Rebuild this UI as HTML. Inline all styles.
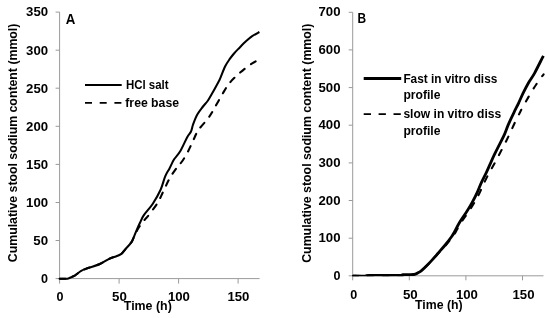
<!DOCTYPE html>
<html><head><meta charset="utf-8"><title>Cumulative stool sodium content</title>
<style>
html,body{margin:0;padding:0;background:#fff;}
svg{display:block;}
text{font-family:"Liberation Sans",sans-serif;font-weight:bold;fill:#000;}
.t{font-size:12px;}
.p{font-size:14.5px;}
.ax{stroke:#9a9a9a;stroke-width:1;fill:none;}
.ln{stroke:#000;fill:none;stroke-linejoin:round;}
</style></head><body>
<svg width="550" height="318" viewBox="0 0 550 318">
<rect width="550" height="318" fill="#fff"/>
<path class="ax" d="M59.6 12.1V283.6M55.6 278.6H259.6M55.6 240.5H59.6M55.6 202.5H59.6M55.6 164.4H59.6M55.6 126.3H59.6M55.6 88.2H59.6M55.6 50.2H59.6M55.6 12.1H59.6M119.1 278.6V283.6M178.6 278.6V283.6M238.1 278.6V283.6"/>
<text class="t" x="48.1" y="282.9" text-anchor="end" textLength="7.0" lengthAdjust="spacingAndGlyphs">0</text>
<text class="t" x="48.1" y="244.8" text-anchor="end" textLength="14.8" lengthAdjust="spacingAndGlyphs">50</text>
<text class="t" x="48.1" y="206.8" text-anchor="end" textLength="22.0" lengthAdjust="spacingAndGlyphs">100</text>
<text class="t" x="48.1" y="168.7" text-anchor="end" textLength="22.0" lengthAdjust="spacingAndGlyphs">150</text>
<text class="t" x="48.1" y="130.6" text-anchor="end" textLength="22.0" lengthAdjust="spacingAndGlyphs">200</text>
<text class="t" x="48.1" y="92.5" text-anchor="end" textLength="22.0" lengthAdjust="spacingAndGlyphs">250</text>
<text class="t" x="48.1" y="54.5" text-anchor="end" textLength="22.0" lengthAdjust="spacingAndGlyphs">300</text>
<text class="t" x="48.1" y="16.4" text-anchor="end" textLength="22.0" lengthAdjust="spacingAndGlyphs">350</text>
<text class="t" x="59.9" y="300.8" text-anchor="middle" textLength="7.0" lengthAdjust="spacingAndGlyphs">0</text>
<text class="t" x="119.4" y="300.8" text-anchor="middle" textLength="14.8" lengthAdjust="spacingAndGlyphs">50</text>
<text class="t" x="178.9" y="300.8" text-anchor="middle" textLength="22.0" lengthAdjust="spacingAndGlyphs">100</text>
<text class="t" x="238.4" y="300.8" text-anchor="middle" textLength="22.0" lengthAdjust="spacingAndGlyphs">150</text>
<text class="t" x="123.8" y="310" text-anchor="start" textLength="48.0" lengthAdjust="spacingAndGlyphs">Time (h)</text>
<text class="t" transform="translate(16.6 262.2) rotate(-90)" textLength="238.6" lengthAdjust="spacingAndGlyphs">Cumulative stool sodium content (mmol)</text>
<text class="p" x="65.8" y="24" text-anchor="start" textLength="9.6" lengthAdjust="spacingAndGlyphs">A</text>
<path class="ln" stroke-width="2.05" d="M59.6 278.8C60.3 278.8 62.7 278.8 64.0 278.8C65.3 278.7 66.3 278.8 67.2 278.7C68.1 278.6 68.2 278.6 69.5 278.0C70.8 277.4 73.1 276.5 75.1 275.3C77.0 274.1 79.2 272.1 81.2 270.9C83.2 269.7 84.2 269.4 87.2 268.3C90.2 267.2 95.6 265.9 99.3 264.3C103.0 262.7 106.6 260.1 109.3 258.8C112.0 257.5 113.4 257.4 115.4 256.6C117.4 255.8 119.7 255.0 121.4 253.8C123.1 252.6 123.7 251.1 125.4 249.2C127.1 247.2 130.0 244.4 131.5 242.1C133.0 239.8 133.6 237.4 134.6 235.1C135.6 232.8 136.6 230.3 137.5 228.2C138.4 226.1 139.1 224.6 140.1 222.5C141.1 220.4 141.6 218.5 143.7 215.4C145.8 212.3 150.0 208.0 152.8 203.7C155.6 199.4 158.5 194.3 160.6 189.7C162.7 185.1 163.8 179.6 165.3 176.1C166.8 172.6 168.0 171.2 169.5 168.4C171.0 165.6 172.3 162.2 174.1 159.3C175.9 156.5 178.0 155.0 180.2 151.3C182.4 147.6 185.4 140.5 187.2 137.2C189.0 133.9 190.0 133.7 191.0 131.5C192.0 129.3 192.1 127.0 193.2 124.1C194.3 121.2 196.0 116.9 197.6 114.1C199.2 111.2 200.9 109.2 202.6 107.0C204.3 104.8 206.3 102.8 207.6 101.0C208.9 99.2 208.7 99.4 210.5 96.3C212.3 93.2 216.7 85.2 218.3 82.2C219.9 79.2 219.0 81.1 220.2 78.4C221.3 75.8 223.6 69.5 225.2 66.3C226.8 63.1 228.2 61.2 229.6 59.2C231.0 57.2 232.2 55.7 233.6 54.0C235.0 52.3 236.0 51.2 238.1 49.1C240.2 47.0 243.8 43.2 246.2 41.1C248.5 39.0 250.0 37.7 252.2 36.2C254.4 34.7 258.2 32.7 259.4 32.0"/>
<path class="ln" stroke-width="2.1" stroke-linecap="round" stroke-dasharray="5.8 7.8" d="M59.6 278.8C60.3 278.8 62.7 278.8 64.0 278.8C65.3 278.7 66.3 278.8 67.2 278.7C68.1 278.6 68.2 278.6 69.5 278.0C70.8 277.4 73.1 276.5 75.1 275.3C77.0 274.1 79.2 272.1 81.2 270.9C83.2 269.7 84.2 269.4 87.2 268.3C90.2 267.2 95.6 265.9 99.3 264.3C103.0 262.7 106.6 260.1 109.3 258.8C112.0 257.5 113.4 257.4 115.4 256.6C117.4 255.8 119.7 255.0 121.4 253.8C123.1 252.6 123.7 251.1 125.4 249.2C127.1 247.2 130.0 244.4 131.5 242.1C133.0 239.8 133.5 237.5 134.6 235.3C135.7 233.1 136.9 230.7 137.9 229.0C138.9 227.3 139.5 226.5 140.6 225.0C141.7 223.5 143.1 221.8 144.5 220.0C145.9 218.2 147.1 217.3 149.2 214.5C151.3 211.7 155.0 207.2 157.3 203.4C159.7 199.6 161.2 195.6 163.3 191.4C165.4 187.2 167.4 182.3 169.7 178.3C171.9 174.3 174.8 170.4 176.8 167.6C178.9 164.8 180.1 164.2 182.0 161.5C183.9 158.8 186.1 155.2 188.0 151.5C189.9 147.8 192.0 143.0 193.7 139.4C195.4 135.8 195.9 133.8 198.3 130.2C200.7 126.6 205.6 121.7 208.3 118.1C211.0 114.5 212.0 112.4 214.3 108.4C216.6 104.4 219.8 98.5 222.3 94.3C224.8 90.1 226.6 86.7 229.4 83.2C232.2 79.7 236.1 76.2 239.4 73.2C242.8 70.2 246.8 67.1 249.5 65.1C252.2 63.1 254.6 62.0 255.6 61.4"/>
<path class="ln" stroke-width="2.0" d="M85 85.1H121.7"/>
<path class="ln" stroke-width="1.8" stroke-dasharray="7 7.7" d="M85 102.8H121.7"/>
<text class="t" x="125.9" y="88.7" text-anchor="start" textLength="42.7" lengthAdjust="spacingAndGlyphs">HCl salt</text>
<text class="t" x="125.3" y="106.9" text-anchor="start" textLength="53.7" lengthAdjust="spacingAndGlyphs">free base</text>
<path class="ax" d="M352.7 12.3V280.3M348.7 275.8H543.5M348.7 238.2H352.7M348.7 200.5H352.7M348.7 162.9H352.7M348.7 125.2H352.7M348.7 87.6H352.7M348.7 49.9H352.7M348.7 12.3H352.7M409.3 275.8V280.3M465.9 275.8V280.3M522.5 275.8V280.3"/>
<text class="t" x="340.5" y="279.9" text-anchor="end" textLength="7.0" lengthAdjust="spacingAndGlyphs">0</text>
<text class="t" x="340.5" y="242.3" text-anchor="end" textLength="22.0" lengthAdjust="spacingAndGlyphs">100</text>
<text class="t" x="340.5" y="204.6" text-anchor="end" textLength="22.0" lengthAdjust="spacingAndGlyphs">200</text>
<text class="t" x="340.5" y="167.0" text-anchor="end" textLength="22.0" lengthAdjust="spacingAndGlyphs">300</text>
<text class="t" x="340.5" y="129.3" text-anchor="end" textLength="22.0" lengthAdjust="spacingAndGlyphs">400</text>
<text class="t" x="340.5" y="91.7" text-anchor="end" textLength="22.0" lengthAdjust="spacingAndGlyphs">500</text>
<text class="t" x="340.5" y="54.0" text-anchor="end" textLength="22.0" lengthAdjust="spacingAndGlyphs">600</text>
<text class="t" x="340.5" y="16.4" text-anchor="end" textLength="22.0" lengthAdjust="spacingAndGlyphs">700</text>
<text class="t" x="353.7" y="298.7" text-anchor="middle" textLength="7.0" lengthAdjust="spacingAndGlyphs">0</text>
<text class="t" x="410.3" y="298.7" text-anchor="middle" textLength="14.8" lengthAdjust="spacingAndGlyphs">50</text>
<text class="t" x="466.9" y="298.7" text-anchor="middle" textLength="22.0" lengthAdjust="spacingAndGlyphs">100</text>
<text class="t" x="523.5" y="298.7" text-anchor="middle" textLength="22.0" lengthAdjust="spacingAndGlyphs">150</text>
<text class="t" x="415.0" y="309.4" text-anchor="start" textLength="47.6" lengthAdjust="spacingAndGlyphs">Time (h)</text>
<text class="t" transform="translate(310.9 262.8) rotate(-90)" textLength="239.2" lengthAdjust="spacingAndGlyphs">Cumulative stool sodium content (mmol)</text>
<text class="p" x="357.6" y="22.6" text-anchor="start" textLength="8.6" lengthAdjust="spacingAndGlyphs">B</text>
<clipPath id="cr"><rect x="352" y="0" width="198" height="276.35"/></clipPath>
<g clip-path="url(#cr)"><path class="ln" stroke-width="2.1" stroke-linecap="round" stroke-dasharray="5.6 9.4" d="M352.7 276.0C360.6 275.9 389.8 275.7 400.0 275.4C410.2 275.2 410.2 275.3 413.7 274.5C417.2 273.7 419.4 271.9 421.2 270.8C423.0 269.7 422.9 269.3 424.6 267.7C426.3 266.1 429.0 263.5 431.3 261.1C433.6 258.7 436.2 255.8 438.6 253.1C441.1 250.4 443.6 247.8 446.0 245.0C448.4 242.2 451.2 238.7 452.8 236.5C454.4 234.3 454.4 234.2 455.9 231.7C457.4 229.2 459.5 225.0 461.7 221.6C463.9 218.2 466.9 214.4 469.1 211.1C471.3 207.8 473.6 203.9 474.9 201.7C476.2 199.4 476.2 199.3 477.1 197.6C478.0 195.9 479.2 193.7 480.2 191.6C481.2 189.5 481.6 188.2 483.1 185.1C484.6 182.0 487.0 176.9 489.2 172.8C491.4 168.7 493.9 164.7 496.1 160.6C498.3 156.5 500.4 152.2 502.6 148.0C504.8 143.8 507.0 139.4 509.1 135.1C511.2 130.8 513.2 125.9 515.1 122.1C517.0 118.2 519.1 114.2 520.2 112.0C521.3 109.8 520.2 111.7 521.6 109.1C523.0 106.5 526.3 100.7 528.7 96.6C531.1 92.5 533.7 88.2 536.2 84.5C538.7 80.8 542.4 76.0 543.6 74.3"/>
<path class="ln" stroke-width="2.8" d="M352.7 276.0C354.9 276.0 363.3 276.1 366.0 276.0C368.7 275.9 363.3 275.5 369.0 275.4C374.7 275.4 394.3 275.6 400.0 275.4C405.7 275.3 400.7 274.8 403.0 274.6C405.3 274.4 411.2 274.8 413.7 274.5C416.2 274.2 416.8 273.4 418.0 272.8C419.2 272.2 420.1 271.7 421.2 270.8C422.3 269.9 423.0 269.3 424.6 267.7C426.2 266.1 428.9 263.5 431.1 261.1C433.4 258.7 435.8 255.8 438.1 253.1C440.5 250.4 442.9 247.8 445.2 245.0C447.5 242.2 450.1 238.7 451.7 236.5C453.3 234.3 453.2 234.2 454.6 231.7C456.0 229.2 458.0 225.0 460.1 221.6C462.2 218.2 465.0 214.4 467.1 211.1C469.2 207.8 470.9 204.9 472.6 201.7C474.4 198.4 476.1 194.9 477.6 191.6C479.1 188.3 480.1 185.3 481.6 182.1C483.1 178.9 485.0 175.4 486.4 172.4C487.8 169.4 488.7 167.2 490.1 164.1C491.5 161.0 492.9 157.6 494.6 154.1C496.3 150.6 498.6 146.1 500.3 142.8C502.0 139.5 503.3 137.1 504.6 134.1C505.9 131.1 506.6 128.7 508.1 125.1C509.6 121.5 512.0 116.5 513.8 112.8C515.5 109.1 517.0 106.5 518.6 103.1C520.2 99.6 521.9 95.5 523.6 92.1C525.3 88.7 526.9 85.7 528.7 82.5C530.5 79.3 532.2 77.5 534.6 73.1C537.0 68.6 541.9 58.7 543.4 55.8"/></g>
<path class="ln" stroke-width="2.8" d="M363.7 78.5H401.2"/>
<path class="ln" stroke-width="1.8" stroke-dasharray="7.3 7.6" d="M363.7 114.1H401"/>
<text class="t" x="403.4" y="82.6" text-anchor="start" textLength="93.9" lengthAdjust="spacingAndGlyphs">Fast in vitro diss</text>
<text class="t" x="403.4" y="99.2" text-anchor="start" textLength="37.0" lengthAdjust="spacingAndGlyphs">profile</text>
<text class="t" x="403.4" y="117.9" text-anchor="start" textLength="97.8" lengthAdjust="spacingAndGlyphs">slow in vitro diss</text>
<text class="t" x="403.4" y="134.5" text-anchor="start" textLength="37.0" lengthAdjust="spacingAndGlyphs">profile</text>
</svg>
</body></html>
